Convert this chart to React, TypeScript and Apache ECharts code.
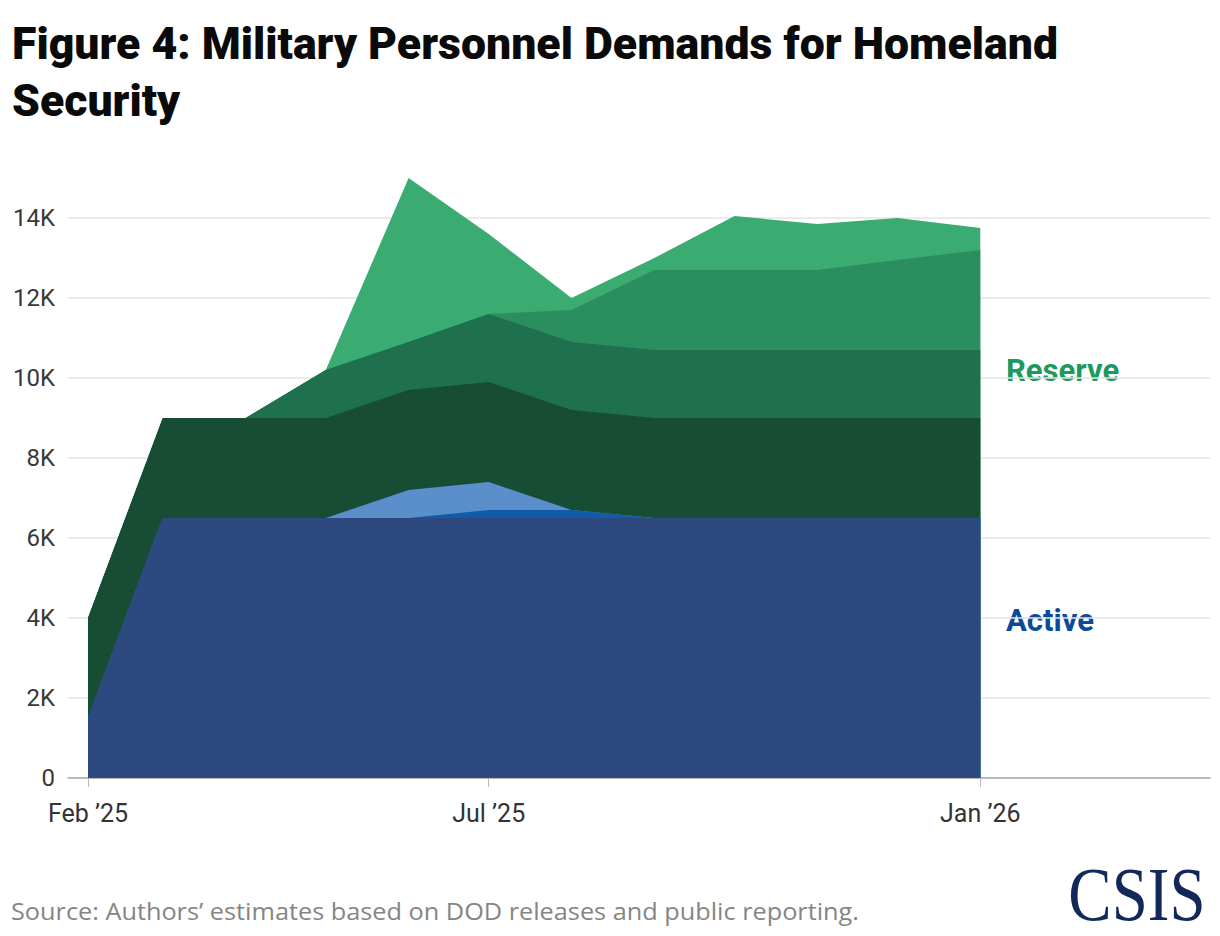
import React, { useEffect, useRef } from "react";
import * as echarts from "echarts";

// Monthly observations (first of each month)
const months = [
  "2025-02", "2025-03", "2025-04", "2025-05", "2025-06", "2025-07",
  "2025-08", "2025-09", "2025-10", "2025-11", "2025-12", "2026-01",
];

// Active-duty layers (personnel)
const activeBase = [1500, 6500, 6500, 6500, 6500, 6500, 6500, 6500, 6500, 6500, 6500, 6500];
const activeSecond = [0, 0, 0, 0, 0, 200, 200, 0, 0, 0, 0, 0];
const activeSurge = [0, 0, 0, 0, 700, 700, 0, 0, 0, 0, 0, 0];

// Reserve-component layers (personnel)
const reserveFirst = [2500, 2500, 2500, 2500, 2500, 2500, 2500, 2500, 2500, 2500, 2500, 2500];
const reserveSecond = [0, 0, 0, 1200, 1200, 1700, 1700, 1700, 1700, 1700, 1700, 1700];
const reserveThird = [0, 0, 0, 0, 0, 0, 800, 2000, 2000, 2000, 2250, 2500];
const reserveSurge = [0, 0, 0, 0, 4100, 2000, 300, 300, 1350, 1150, 1050, 550];

// Labelled months on the date axis
const xTickMonths = ["2025-02", "2025-07", "2026-01"];
const monthNames = ["Jan", "Feb", "Mar", "Apr", "May", "Jun", "Jul", "Aug", "Sep", "Oct", "Nov", "Dec"];

const DAY = 86400000;
// Dates are plotted as whole days since 1 Feb 2025 (UTC)
const origin = Date.UTC(2025, 1, 1);
const toDay = (ym: string) => {
  const [y, m] = ym.split("-").map(Number);
  return Math.round((Date.UTC(y, m - 1, 1) - origin) / DAY);
};

// Bottom-to-top stacking order
const layers = [
  { name: "Active", data: activeBase, color: "#2e4880" },
  { name: "Active (added)", data: activeSecond, color: "#105ca9" },
  { name: "Active (surge)", data: activeSurge, color: "#5b8fcc" },
  { name: "Reserve", data: reserveFirst, color: "#174d35" },
  { name: "Reserve (added)", data: reserveSecond, color: "#1e704e" },
  { name: "Reserve (later)", data: reserveThird, color: "#2b8e5e" },
  { name: "Reserve (surge)", data: reserveSurge, color: "#3aac72" },
];

export default function App() {
  const ref = useRef<HTMLDivElement>(null);

  useEffect(() => {
    if (!ref.current) return;
    const chart = echarts.init(ref.current, undefined, { renderer: "svg" });
    const xs = months.map(toDay);
    const tickValues = xTickMonths.map(toDay);
    const labelFor = (d: number) => {
      const dt = new Date(origin + d * DAY);
      return `${monthNames[dt.getUTCMonth()]} \u2019${String(dt.getUTCFullYear()).slice(2)}`;
    };

    // Running totals: each layer's top edge is the sum of itself and all layers beneath it.
    const running = new Array(months.length).fill(0);
    const tops = layers.map((l) => {
      const top = l.data.map((v, i) => (running[i] += v));
      return { ...l, top };
    });

    // Draw from the highest edge down so each lower layer paints over the one above it.
    const series = tops
      .slice()
      .reverse()
      .map((l) => ({
        name: l.name,
        type: "line",
        symbol: "none",
        clip: false,
        lineStyle: { width: 0 },
        areaStyle: { color: l.color, opacity: 1 },
        data: l.top.map((v, i) => [xs[i], v]),
      }));

    chart.setOption({
      animation: false,
      backgroundColor: "#ffffff",
      grid: { left: 68, right: 10, top: 218, bottom: 158, containLabel: false },
      xAxis: {
        type: "value",
        min: -7.5,
        max: 420,
        axisLine: { show: true, onZero: false, lineStyle: { color: "#aaaaaa", width: 1.5 } },
        axisTick: {
          show: true,
          customValues: tickValues,
          length: 9,
          lineStyle: { color: "#bbbbbb", width: 1 },
        },
        axisLabel: {
          customValues: tickValues,
          formatter: (v: number) => labelFor(v),
          fontFamily: "Roboto",
          fontSize: 25,
          color: "#333333",
          margin: 23,
        },
        splitLine: { show: false },
      },
      yAxis: {
        type: "value",
        min: 0,
        max: 14000,
        interval: 2000,
        axisLine: { show: false },
        axisTick: { show: false },
        axisLabel: {
          formatter: (v: number) => (v === 0 ? "0" : `${v / 1000}K`),
          fontFamily: "Roboto",
          fontSize: 24,
          color: "#383838",
          margin: 13,
        },
        splitLine: { lineStyle: { color: "#e4e4e4", width: 1.5 } },
      },
      series,
      graphic: [
        {
          type: "text",
          x: 12,
          y: 44,
          style: {
            text: "Figure 4: Military Personnel Demands for Homeland",
            font: "900 44.6px Roboto",
            fill: "#0a0a0a",
            textVerticalAlign: "middle",
          },
        },
        {
          type: "text",
          x: 12,
          y: 101,
          style: {
            text: "Security",
            font: "900 44.6px Roboto",
            fill: "#0a0a0a",
            textVerticalAlign: "middle",
          },
        },
        {
          type: "text",
          x: 1006,
          y: 370,
          style: {
            text: "Reserve",
            font: "bold 31px Roboto",
            fill: "#1c9a5e",
            textVerticalAlign: "middle",
          },
        },
        {
          type: "text",
          x: 1006,
          y: 620,
          style: {
            text: "Active",
            font: "bold 31px Roboto",
            fill: "#0b4a9b",
            textVerticalAlign: "middle",
          },
        },
        {
          type: "text",
          x: 11,
          y: 911,
          scaleX: 1.1,
          style: {
            text: "Source: Authors\u2019 estimates based on DOD releases and public reporting.",
            font: "23px 'Open Sans'",
            fill: "#858585",
            textVerticalAlign: "middle",
          },
        },
        {
          type: "text",
          x: 1137,
          y: 932,
          scaleY: 1.18,
          style: {
            text: "CSIS",
            font: "65px 'Liberation Serif'",
            fill: "#13285a",
            textAlign: "center",
            textVerticalAlign: "bottom",
          },
        },
      ],
    });

    return () => chart.dispose();
  }, []);

  return (
    <div
      ref={ref}
      style={{ position: "absolute", left: 0, top: 0, width: 1220, height: 936 }}
    />
  );
}
